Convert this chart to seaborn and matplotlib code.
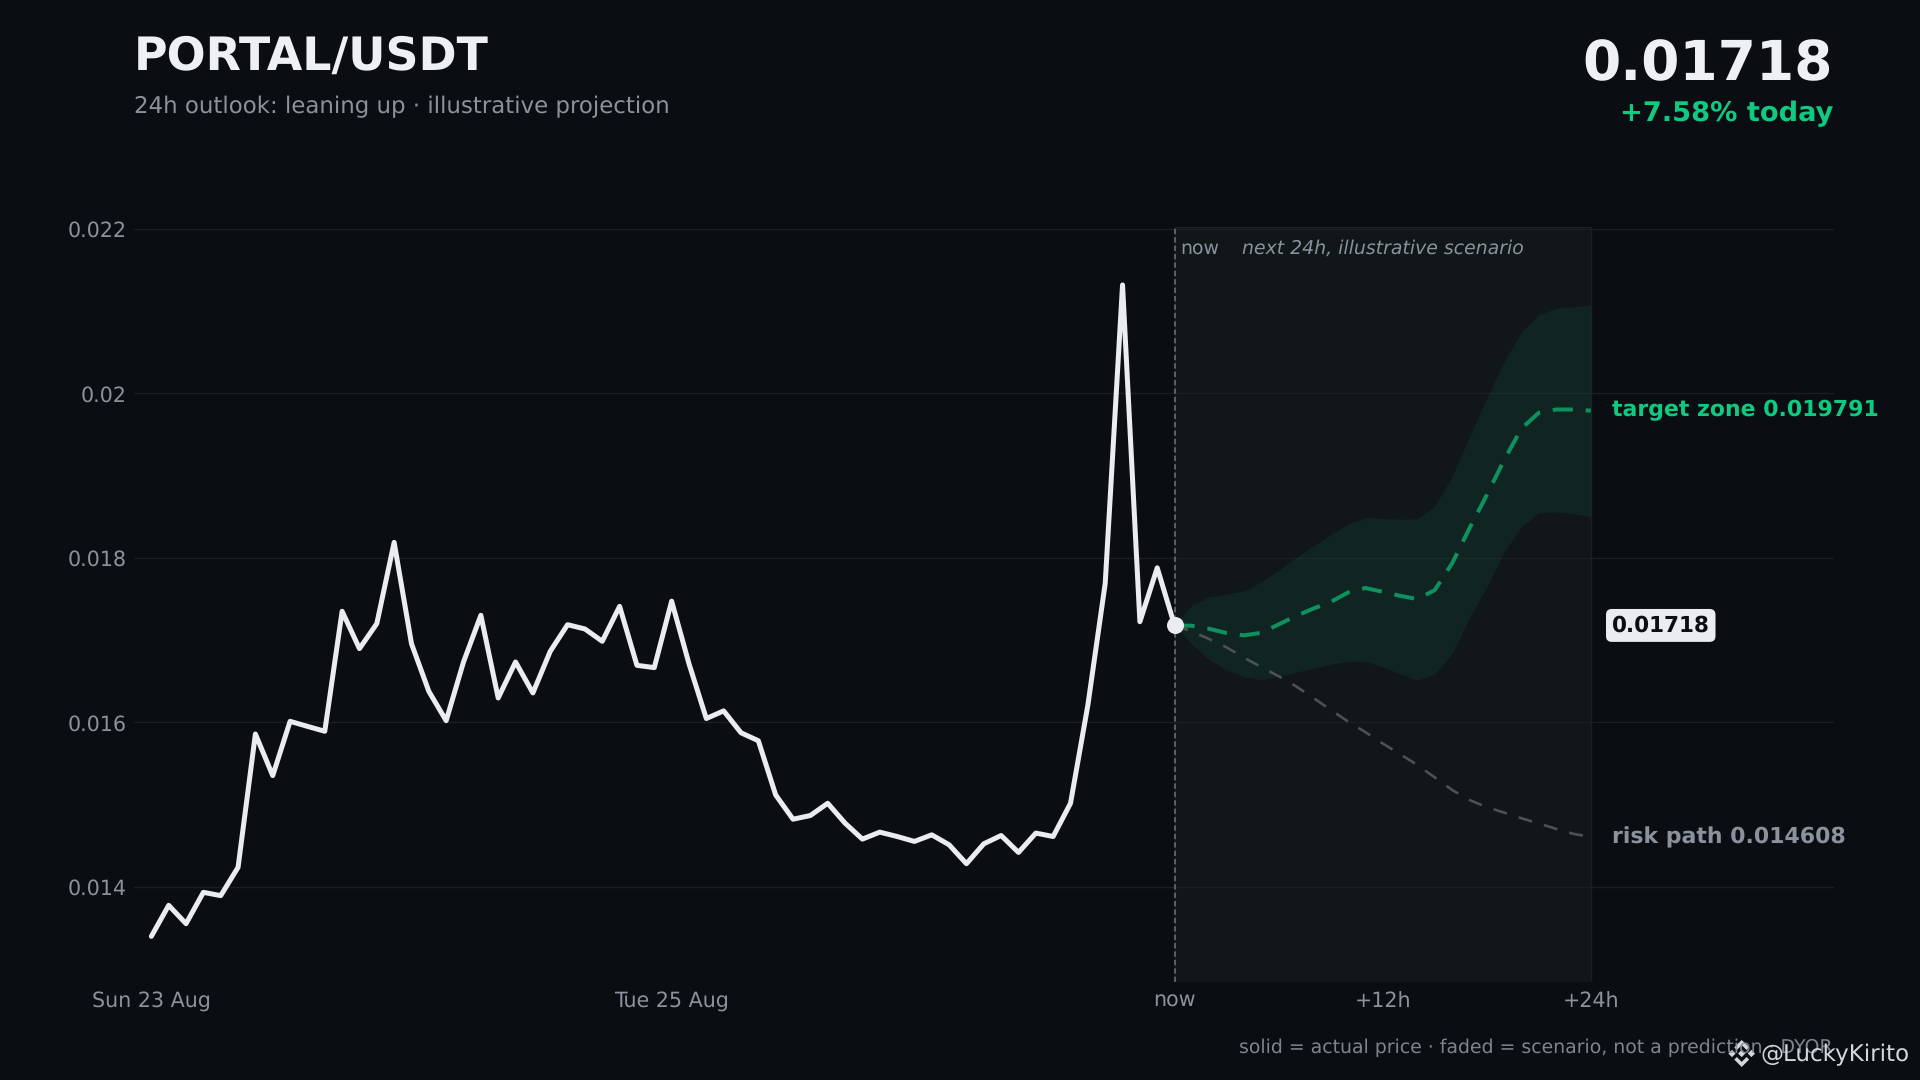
import matplotlib
matplotlib.use('Agg')
import matplotlib.pyplot as plt
from matplotlib.patches import Polygon
import numpy as np
import pandas as pd
import seaborn as sns

# Actual price, one value per step
price = [0.01340, 0.013777, 0.013554, 0.013935, 0.013895, 0.014239, 0.01586, 0.015354, 0.016014, 0.015953,
         0.015893, 0.017352, 0.016898, 0.017202, 0.01819, 0.016958, 0.016379, 0.016022, 0.016736, 0.017303,
         0.016298, 0.016736, 0.016359, 0.016865, 0.017189, 0.017137, 0.016987, 0.017412, 0.016695, 0.016667,
         0.017475, 0.016715, 0.016048, 0.016141, 0.015875, 0.015778, 0.015119, 0.014824, 0.014869, 0.015018,
         0.014776, 0.014582, 0.014667, 0.014614, 0.014554, 0.014634, 0.014513, 0.014283, 0.014525, 0.014626,
         0.01442, 0.014655, 0.014614, 0.015018, 0.01621, 0.01769, 0.02132, 0.017225, 0.01788, 0.01718]

# Scenario, hours 0 to 24 after now
target_path = [0.01718, 0.017176, 0.017139, 0.017087, 0.017059, 0.017091, 0.017192, 0.017295, 0.017385, 0.017465,
               0.017580, 0.017635, 0.017589, 0.01754, 0.0175, 0.017609, 0.017933, 0.018359, 0.018764, 0.019189,
               0.019574, 0.019765, 0.019805, 0.019805, 0.019791]
band_high = [0.01718, 0.017427, 0.017528, 0.01756, 0.017601, 0.01771, 0.017852, 0.018006, 0.018144, 0.018286,
             0.018411, 0.018492, 0.01848, 0.018472, 0.018476, 0.01863, 0.018987, 0.019473, 0.019939, 0.020385,
             0.02075, 0.02096, 0.021033, 0.021054, 0.021074]
band_low = [0.01718, 0.01695, 0.016764, 0.016642, 0.016554, 0.016521, 0.016562, 0.01661, 0.016659, 0.016707,
            0.016743, 0.016743, 0.016675, 0.016594, 0.016513, 0.016586, 0.016836, 0.017264, 0.01765, 0.018075,
            0.018379, 0.018549, 0.018561, 0.018541, 0.0185]
risk_path = [0.01718, 0.017107, 0.017014, 0.016913, 0.016788, 0.016675, 0.016562, 0.01644, 0.016299, 0.016154,
             0.016012, 0.015883, 0.015745, 0.015616, 0.015483, 0.015333, 0.01518, 0.015059, 0.01497, 0.014905,
             0.014836, 0.014772, 0.014707, 0.014646, 0.014608]

y_ticks = [0.014, 0.016, 0.018, 0.02, 0.022]
y_tick_labels = ['0.014', '0.016', '0.018', '0.02', '0.022']
x_tick_labels = ['Sun 23 Aug', 'Tue 25 Aug', 'now', '+12h', '+24h']

BG = '#0a0e12'
PANEL = '#111619'
GRID = '#1a1f24'
WHITE = '#eaecef'
GREY = '#8b929c'
GREEN = '#0ecb81'
MARK = '#d4d7dc'

sns.set_theme(style='dark', rc={'figure.facecolor': BG, 'axes.facecolor': BG, 'savefig.facecolor': BG})
plt.rcParams['font.family'] = ['DejaVu Sans']
plt.rcParams['text.hinting'] = 'no_hinting'

df_price = pd.DataFrame({'step': np.arange(len(price)), 'price': price})
now = len(price) - 1
df_scen = pd.DataFrame({'step': now + np.arange(len(target_path)), 'target': target_path, 'high': band_high,
                        'low': band_low, 'risk': risk_path})

W, H = 1920, 1080
fig = plt.figure(figsize=(W / 100, H / 100), dpi=100)
ax = fig.add_axes([134 / W, 1 - 982.4 / H, 1699.6 / W, 755.4 / H])

ax.axvspan(now, now + 24, facecolor=PANEL, edgecolor=GRID, linewidth=1, zorder=0)
ax.set_axisbelow(True)
ax.yaxis.grid(True, color=GRID, linewidth=1, zorder=1)
ax.xaxis.grid(False)

ax.fill_between(df_scen['step'], df_scen['low'], df_scen['high'], color=GREEN, alpha=0.08, linewidth=0, zorder=2)
sns.lineplot(data=df_scen, x='step', y='risk', ax=ax, color='#4d5155', linewidth=1.9,
             linestyle=(0, (5.3, 4.7)), zorder=3)
sns.lineplot(data=df_scen, x='step', y='target', ax=ax, color=GREEN, alpha=0.65, linewidth=2.9,
             linestyle=(0, (5, 3.2)), zorder=3)
ax.axvline(now, color='#6f757d', linewidth=1.1, linestyle=(0, (3.5, 2)), zorder=3)
sns.lineplot(data=df_price, x='step', y='price', ax=ax, color=WHITE, linewidth=3.6, zorder=4,
             solid_joinstyle='round', solid_capstyle='round')
sns.scatterplot(x=[now], y=[price[-1]], ax=ax, color=WHITE, s=150, linewidth=0, zorder=5)

ax.set_xlim(-1, 97)
ax.set_ylim(0.01284, 0.022024)
ax.set_yticks(y_ticks)
ax.set_yticklabels(y_tick_labels)
ax.set_xticks([0, 30, now, now + 12, now + 24])
ax.set_xticklabels(x_tick_labels)
ax.tick_params(axis='both', length=0, labelsize=14.85, labelcolor=GREY)
ax.tick_params(axis='x', pad=6.2)
ax.tick_params(axis='y', pad=5)
ax.set_xlabel('')
ax.set_ylabel('')
sns.despine(ax=ax, left=True, bottom=True)

# Text inside and right of the plot
ax.annotate('now', xy=(now, 0.022), xytext=(6, -20), textcoords='offset pixels', color=GREY, fontsize=13.55,
            va='center')
ax.annotate('next 24h, illustrative scenario', xy=(now, 0.022), xytext=(67, -20), textcoords='offset pixels',
            color=GREY, fontsize=13.55, style='italic', va='center')
ax.annotate('target zone 0.019791', xy=(now + 24, target_path[-1]), xytext=(21, 0), textcoords='offset pixels',
            color=GREEN, fontsize=15.8, fontweight='bold', va='center', annotation_clip=False)
ax.annotate('risk path 0.014608', xy=(now + 24, risk_path[-1]), xytext=(21, 0), textcoords='offset pixels',
            color=GREY, fontsize=15.8, fontweight='bold', va='center', annotation_clip=False)
ax.annotate('0.01718', xy=(now + 24, price[-1]), xytext=(21, 0), textcoords='offset pixels',
            color=BG, fontsize=15.5, fontweight='bold', va='center', annotation_clip=False,
            bbox=dict(boxstyle='round,pad=0.27', facecolor=WHITE, edgecolor='none'))

# Header and footer
fig.text(134 / W, 1 - 57 / H, 'PORTAL/USDT', color='#eef0f4', fontsize=33, fontweight='bold', va='center')
fig.text(134 / W, 1 - 107 / H, '24h outlook: leaning up · illustrative projection', color=GREY, fontsize=16.47,
         va='center')
fig.text(1833 / W, 1 - 65 / H, '0.01718', color='#eef0f4', fontsize=39.6, fontweight='bold', va='center', ha='right')
fig.text(1833 / W, 1 - 114 / H, '+7.58% today', color=GREEN, fontsize=19.6, fontweight='bold', va='center', ha='right')
fig.text(1833 / W, 1 - 1048 / H, 'solid = actual price · faded = scenario, not a prediction · DYOR', color=GREY,
         fontsize=13.62, va='center', ha='right', alpha=0.9)
fig.text(1910 / W, 1 - 1055 / H, '@LuckyKirito', color=MARK, fontsize=16.6, va='center', ha='right')


def logo_piece(points, cx=1741.7, cy=1053.5, r=13.5):
    # one piece of the small diamond logo, points in units of r around the centre
    xy = [((cx + r * px) / W, 1 - (cy - r * py) / H) for px, py in points]
    fig.add_artist(Polygon(xy, closed=True, transform=fig.transFigure, facecolor=MARK, edgecolor='none'))


for dx in (-0.72, 0, 0.72):
    logo_piece([(dx, 0.27), (dx + 0.27, 0), (dx, -0.27), (dx - 0.27, 0)])
for s in (1, -1):
    logo_piece([(0, s), (0.55, s * 0.45), (0.36, s * 0.26), (0, s * 0.62), (-0.36, s * 0.26), (-0.55, s * 0.45)])

fig.savefig('out.png', dpi=100)
